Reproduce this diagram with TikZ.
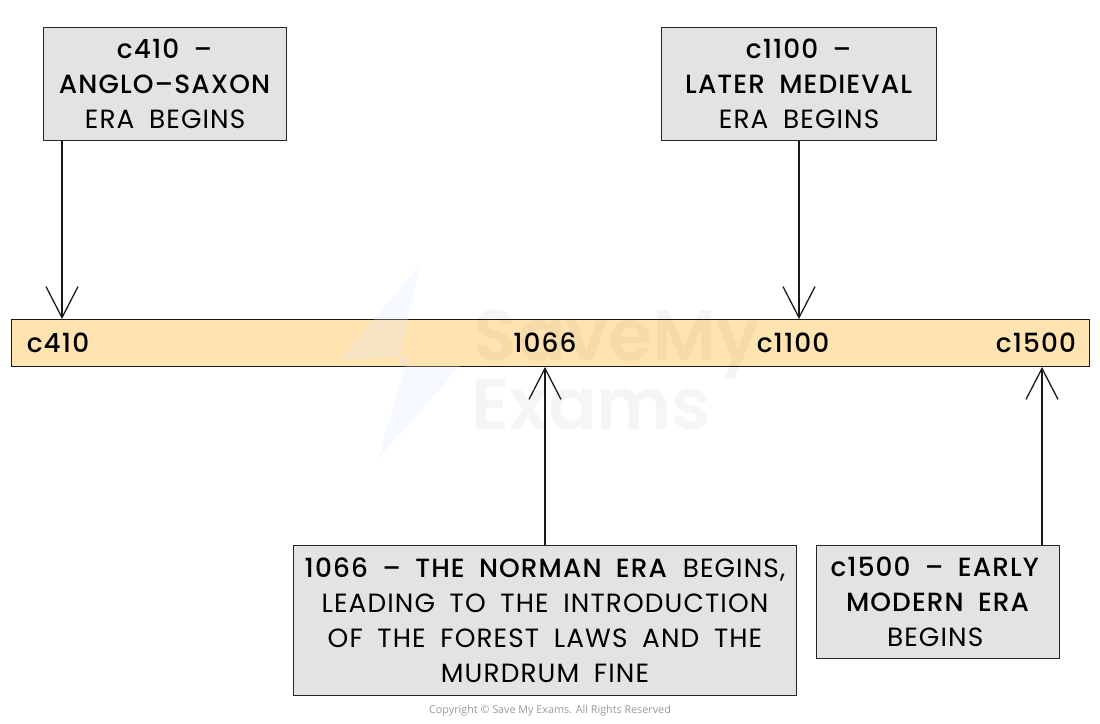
\documentclass[tikz,border=0pt]{standalone}
\usepackage{fontspec}
\setmainfont{Poppins}[BoldFont={Poppins Medium},LetterSpace=4.2,WordSpace=1.8]
\newfontfamily\markfont{Poppins}[BoldFont={Poppins SemiBold}]
\newfontfamily\copyfont{Open Sans}
\usetikzlibrary{arrows.meta}

\begin{document}
\begin{tikzpicture}[x=0.03cm, y=-0.03cm,
    erabox/.style={draw=black!85, fill=boxgrey, line width=1.1pt, align=center, inner sep=0pt,
                   anchor=north west, font=\fontsize{22.5}{29.8}\selectfont},
    year/.style={font=\bfseries\fontsize{22.5}{25}\selectfont, inner sep=0pt},
    pointer/.style={draw=black!90, line width=1.1pt, -{Straight Barb[length=0.93cm, width=0.96cm, line width=1.1pt]}},
    wmark/.style={font=\markfont\bfseries\fontsize{61}{61}\selectfont, text=black, opacity=0.04, inner sep=0pt},
]

% Colors
\definecolor{boxgrey}{HTML}{E3E3E3}
\definecolor{barfill}{HTML}{FFE3B1}
\definecolor{markblue}{HTML}{DCE6FF}

\useasboundingbox (0,0) rectangle (1100,723);

% === Timeline bar ===
\node[draw=black!90, fill=barfill, line width=1.1pt, minimum width=32.34cm, minimum height=1.41cm,
      inner sep=0pt, anchor=north west] (bar) at (11,319) {};

% === Watermark ===
\fill[markblue, opacity=0.25] (419,266) -- (340,360) -- (408,356) -- (378,459) -- (460,366) -- (398,366) -- cycle;
\node[wmark] (markA) at (617,345) {SaveMy};
\node[wmark] (markB) at (591,405) {Exams};

% === Years on the bar ===
\node[year] (yA) at (58,343) {c410};
\node[year] (yB) at (545,343) {1066};
\node[year] (yC) at (793,343) {c1100};
\node[year] (yD) at (1036,343) {c1500};

% === Boxes ===
\node[erabox, minimum width=7.29cm, minimum height=3.38cm] (anglo) at (43,27)
  {\textbf{c410 –}\\\textbf{ANGLO–SAXON}\\ERA BEGINS};
\node[erabox, minimum width=8.25cm, minimum height=3.38cm] (medieval) at (661,27)
  {\textbf{c1100 –}\\\textbf{LATER MEDIEVAL}\\ERA BEGINS};
\node[erabox, minimum width=15.08cm, minimum height=4.49cm] (norman) at (293,545)
  {\textbf{1066 – THE NORMAN ERA} BEGINS,\\LEADING TO THE INTRODUCTION\\OF THE FOREST LAWS AND THE\\MURDRUM FINE};
\node[erabox, minimum width=7.29cm, minimum height=3.38cm] (modern) at (816,545)
  {\textbf{c1500 – EARLY}\hspace*{5pt}\\\textbf{MODERN ERA}\hspace*{5pt}\\BEGINS\hspace*{5pt}};

% === Pointers ===
\coordinate (tipA) at (62,319);
\coordinate (tipB) at (799,319);
\coordinate (tipC) at (545,367);
\coordinate (tipD) at (1042,367);
\draw[pointer] (anglo.south -| tipA) -- (tipA);
\draw[pointer] (medieval.south -| tipB) -- (tipB);
\draw[pointer] (norman.north -| tipC) -- (tipC);
\draw[pointer] (modern.north -| tipD) -- (tipD);

% === Copyright ===
\node[font=\copyfont\fontsize{9.2}{11}\selectfont, text=black!40, inner sep=0pt] (copy) at (550,711)
  {Copyright © Save My Exams. All Rights Reserved};
\end{tikzpicture}
\end{document}
